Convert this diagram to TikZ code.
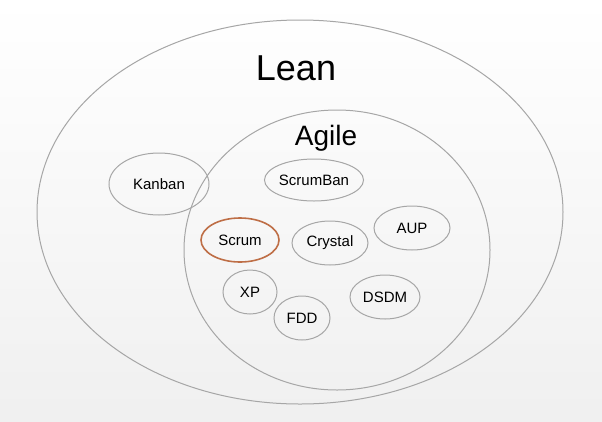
\documentclass[tikz,border=0pt]{standalone}
\usepackage{fontspec}
\setmainfont{Liberation Sans}
\usetikzlibrary{shapes.geometric}
\begin{document}
\begin{tikzpicture}[x=1pt,y=-1pt,
  ring/.style={draw=gray!70,line width=1pt},
  meth/.style={ellipse,draw=gray!70,line width=1pt,inner sep=0pt,font=\fontsize{15}{15}\selectfont},
  hl/.style={draw={rgb,255:red,190;green,110;blue,70},line width=1.6pt}]
\shade[top color=white,bottom color=gray!12] (0,0) rectangle (602,421);
\useasboundingbox (0,0) rectangle (602,421);
\draw[ring] (300,212) ellipse [x radius=263,y radius=192];
\draw[ring] (337,250) ellipse [x radius=153,y radius=140];
\node (lean) at (296,68) {\fontsize{36}{36}\selectfont Lean};
\node (agile) at (326,138) {\fontsize{28}{28}\selectfont Agile};
\node[meth,minimum width=100pt,minimum height=62pt] (kanban) at (159,184) {Kanban};
\node[meth,minimum width=94pt,minimum height=42pt] (scrumban) at (314,180) {ScrumBan};
\node[meth,hl,minimum width=78pt,minimum height=44pt] (scrum) at (240,240) {Scrum};
\node[meth,minimum width=76pt,minimum height=44pt] (crystal) at (330,243) {Crystal};
\node[meth,minimum width=76pt,minimum height=44pt] (aup) at (412,228) {AUP};
\node[meth,minimum width=54pt,minimum height=44pt] (xp) at (250,292) {XP};
\node[meth,minimum width=56pt,minimum height=44pt] (fdd) at (302,318) {FDD};
\node[meth,minimum width=70pt,minimum height=44pt] (dsdm) at (385,297) {DSDM};
\end{tikzpicture}
\end{document}
